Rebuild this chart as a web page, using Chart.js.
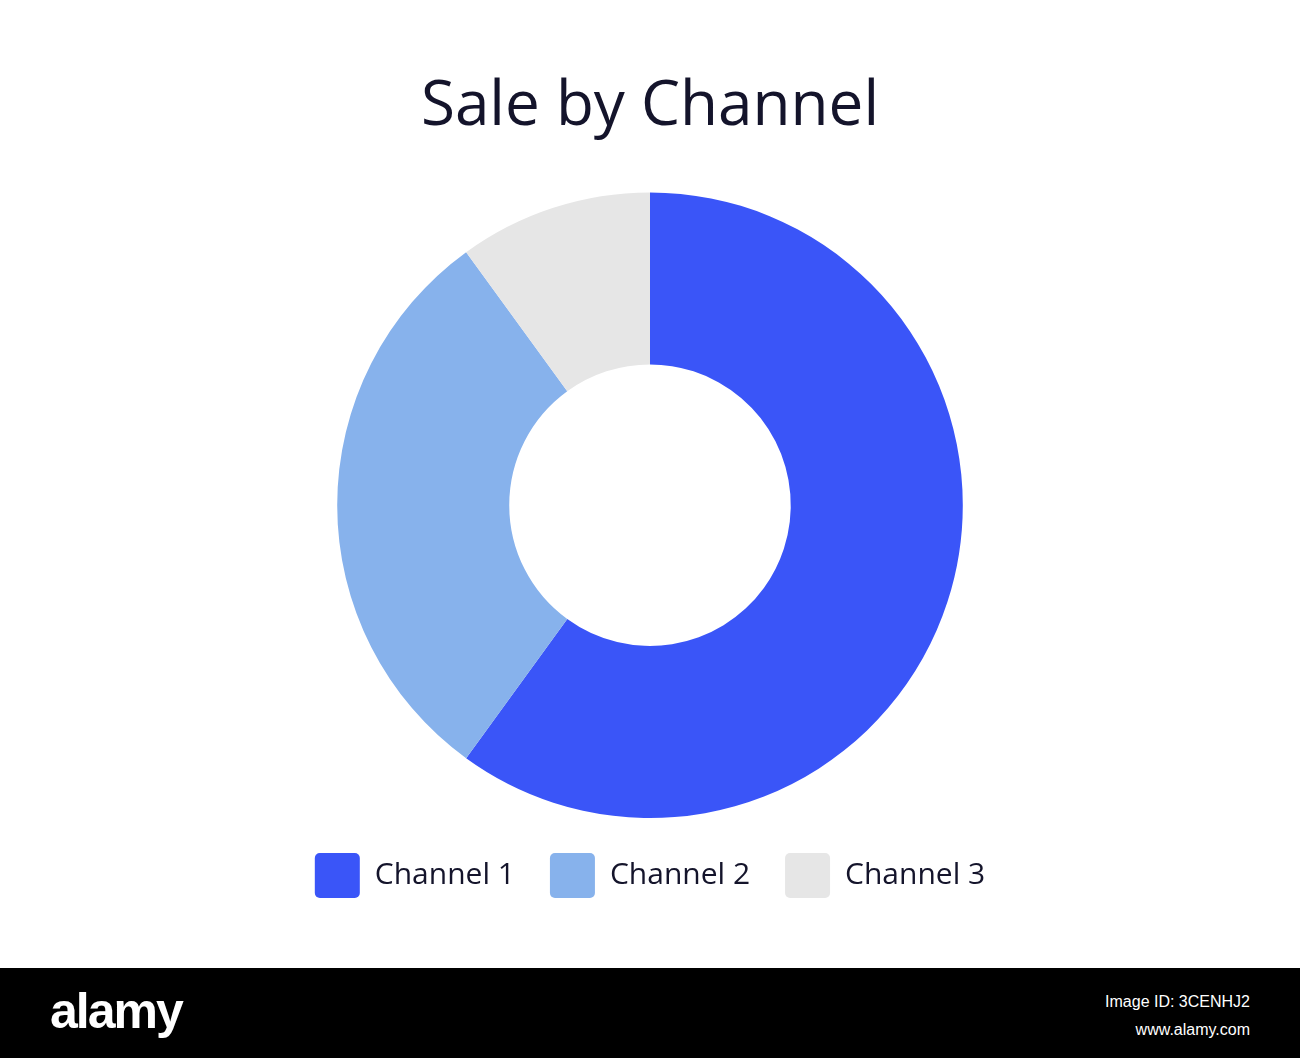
<!DOCTYPE html>
<html><head><meta charset="utf-8">
<script src="https://cdn.jsdelivr.net/npm/chart.js@4"></script>
<style>
html,body{margin:0;padding:0;background:#fff;width:1300px;height:1058px;overflow:hidden;font-family:"Open Sans",sans-serif}
#wrap{position:absolute;left:0;top:0;width:1300px;height:968px}
#foot{position:absolute;left:0;top:968px;width:1300px;height:90px;background:#000;color:#fff}
#foot .l{position:absolute;left:50px;top:14px;font:bold 50px "Liberation Sans",sans-serif;letter-spacing:-2px}
#foot .r{position:absolute;right:50px;top:20px;font:16px "Liberation Sans",sans-serif;text-align:right;line-height:28px}
</style></head><body>
<div id="wrap"><canvas id="c"></canvas></div>
<div id="foot"><div class="l">alamy</div><div class="r">Image ID: 3CENHJ2<br>www.alamy.com</div></div>
<script>
const categories=["Channel 1","Channel 2","Channel 3"];
const values=[60,30,10];
const colors=["#3a55f8","#87b2ec","#e6e6e6"];
new Chart(document.getElementById('c'),{
type:'doughnut',
data:{labels:categories,datasets:[{data:values,backgroundColor:colors,borderWidth:0,hoverOffset:0}]},
options:{responsive:true,maintainAspectRatio:false,animation:false,cutout:'45%',
layout:{padding:{top:70,bottom:60}},
plugins:{tooltip:{enabled:false},
title:{display:true,text:'Sale by Channel',color:'#14142b',font:{family:'Open Sans',size:62,weight:'500'},padding:{top:0,bottom:48}},
legend:{position:'bottom',labels:{boxWidth:45,boxHeight:45,useBorderRadius:true,borderRadius:5,padding:35,color:'#14142b',font:{family:'Open Sans',size:30}}}}}
});
</script></body></html>
